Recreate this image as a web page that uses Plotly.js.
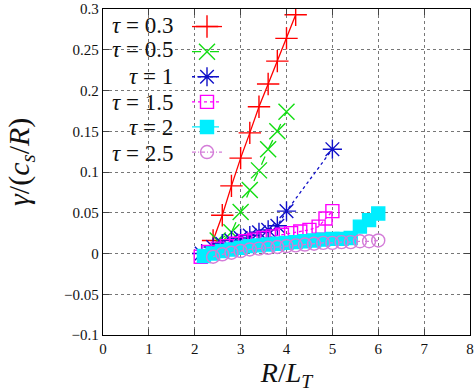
<!DOCTYPE html>
<html><head><meta charset="utf-8">
<script src="https://cdn.plot.ly/plotly-3.0.1.min.js"></script>
<style>body{margin:0;background:#fff}#chart{width:474px;height:392px}</style>
</head><body><div id="chart"></div>
<script>
// Data
const labels = ['τ = 0.3','τ = 0.5','τ = 1','τ = 1.5','τ = 2','τ = 2.5'];
const tau03_x = [2.4,2.6,2.8,3.0,3.2,3.4,3.6,3.8,4.0,4.2];
const tau03_y = [0.016,0.047,0.083,0.117,0.148,0.180,0.208,0.236,0.264,0.293];
const tau05_x = [2.5,2.8,3.0,3.2,3.4,3.6,3.8,4.0];
const tau05_y = [0.016,0.026,0.051,0.078,0.102,0.128,0.150,0.174];
const tau1_x = [2.15,2.4,2.6,2.8,3.0,3.2,3.4,3.6,3.8,4.0,5.0];
const tau1_y = [0.0,0.008,0.012,0.016,0.019,0.022,0.026,0.029,0.034,0.052,0.128];
const tau15_x = [2.13,2.3,2.5,2.7,2.9,3.1,3.3,3.5,3.7,3.9,4.1,4.3,4.5,4.7,4.85,5.0];
const tau15_y = [-0.004,0.002,0.006,0.009,0.012,0.015,0.017,0.019,0.021,0.023,0.025,0.027,0.029,0.033,0.043,0.052];
const tau2_x = [2.2,2.4,2.6,2.8,3.0,3.2,3.4,3.6,3.8,4.0,4.2,4.4,4.6,4.8,5.0,5.2,5.4,5.6,5.8,6.0];
const tau2_y = [-0.003,0.000,0.003,0.005,0.007,0.009,0.010,0.011,0.012,0.013,0.014,0.015,0.016,0.017,0.018,0.018,0.019,0.033,0.041,0.049];
const tau25_x = [2.4,2.6,2.8,3.0,3.2,3.4,3.6,3.8,4.0,4.2,4.4,4.6,4.8,5.0,5.2,5.4,5.6,5.8,6.0];
const tau25_y = [-0.004,-0.001,0.001,0.003,0.005,0.006,0.007,0.008,0.009,0.010,0.011,0.012,0.013,0.013,0.014,0.014,0.015,0.015,0.016];
const yTickVals = [-0.1,-0.05,0,0.05,0.1,0.15,0.2,0.25,0.3];
const yTickText = ['−0.1','−0.05','0','0.05','0.1','0.15','0.2','0.25','0.3'];
const xTickVals = [0,1,2,3,4,5,6,7,8];
const xTickText = ['0','1','2','3','4','5','6','7','8'];

const serif = 'Liberation Serif, DejaVu Serif, serif';
function tr(x, y, color, dash, symbol, size) {
  return {x: x, y: y, type: 'scatter', mode: 'lines+markers', name: ' ',
    line: {color: color, width: 1.3, dash: dash},
    marker: {symbol: symbol, size: size, color: color, line: {color: color, width: 1.4}}};
}
const data = [
  tr(tau03_x, tau03_y, '#ff0000', 'solid', 'cross-thin-open', 16),
  tr(tau05_x, tau05_y, '#11dd11', 'dash', 'x-thin-open', 16),
  tr(tau1_x, tau1_y, '#1010c8', 'dot', 'asterisk-open', 16),
  tr(tau15_x, tau15_y, '#ff00ff', 'dot', 'square-open', 13),
  tr(tau2_x, tau2_y, '#00eeff', 'dashdot', 'square', 13),
  tr(tau25_x, tau25_y, '#d47cd8', '4px,2px,1px,2px', 'circle-open', 13)
];
const rowY = [25, 50, 76, 102, 127, 153];
const plotTop = 9, plotBot = 335, plotH = plotBot - plotTop, plotL = 103, plotW = 367;
const annotations = labels.map((t, i) => ({
  xref: 'paper', yref: 'paper', x: (175 - plotL) / plotW, y: 1 - (rowY[i] - plotTop) / plotH,
  xanchor: 'right', yanchor: 'middle', showarrow: false,
  text: '<i>τ</i>' + t.slice(1), font: {family: serif, size: 23, color: '#111'}
}));
annotations.push({
  xref: 'paper', yref: 'paper', x: (21 - plotL) / plotW, y: 1 - (162 - plotTop) / plotH,
  xanchor: 'center', yanchor: 'middle', showarrow: false, textangle: -90,
  text: '<i>γ</i>/(<i>c</i><sub><i>s</i></sub>/<i>R</i>)', font: {family: serif, size: 30, color: '#111'}
});
const layout = {
  width: 474, height: 392,
  margin: {l: plotL, r: 4, t: plotTop, b: 392 - plotBot},
  paper_bgcolor: '#fff', plot_bgcolor: '#fff',
  showlegend: true,
  legend: {x: (187 - plotL) / plotW, y: 1 - (9 - plotTop) / plotH, xanchor: 'left', yanchor: 'top',
    bgcolor: 'rgba(0,0,0,0)', borderwidth: 0, font: {family: serif, size: 17}, tracegroupgap: 0},
  xaxis: {range: [0, 8], tickvals: xTickVals, ticktext: xTickText, ticks: 'inside', ticklen: 6,
    showline: true, linecolor: '#000', linewidth: 1.3, mirror: 'ticks', zeroline: false,
    showgrid: true, gridcolor: '#777', griddash: 'dot', gridwidth: 1, ticklabeloverflow: 'allow',
    tickfont: {family: serif, size: 15, color: '#111'},
    title: {text: '<i>R</i>/<i>L</i><sub><i>T</i></sub>', font: {family: serif, size: 28, color: '#111'}, standoff: 6}},
  yaxis: {range: [-0.1, 0.3], tickvals: yTickVals, ticktext: yTickText, ticks: 'inside', ticklen: 6,
    showline: true, linecolor: '#000', linewidth: 1.3, mirror: 'ticks', zeroline: false,
    showgrid: true, gridcolor: '#777', griddash: 'dot', gridwidth: 1, ticklabeloverflow: 'allow',
    tickfont: {family: serif, size: 15, color: '#111'}},
  shapes: [{type: 'rect', layer: 'between', xref: 'paper', yref: 'paper',
    x0: 0.003, x1: (240 - plotL) / plotW, y0: 1 - (165 - plotTop) / plotH, y1: 0.996,
    fillcolor: '#fff', line: {width: 0}}],
  annotations: annotations
};
Plotly.newPlot('chart', data, layout, {staticPlot: true, displayModeBar: false});
</script></body></html>
